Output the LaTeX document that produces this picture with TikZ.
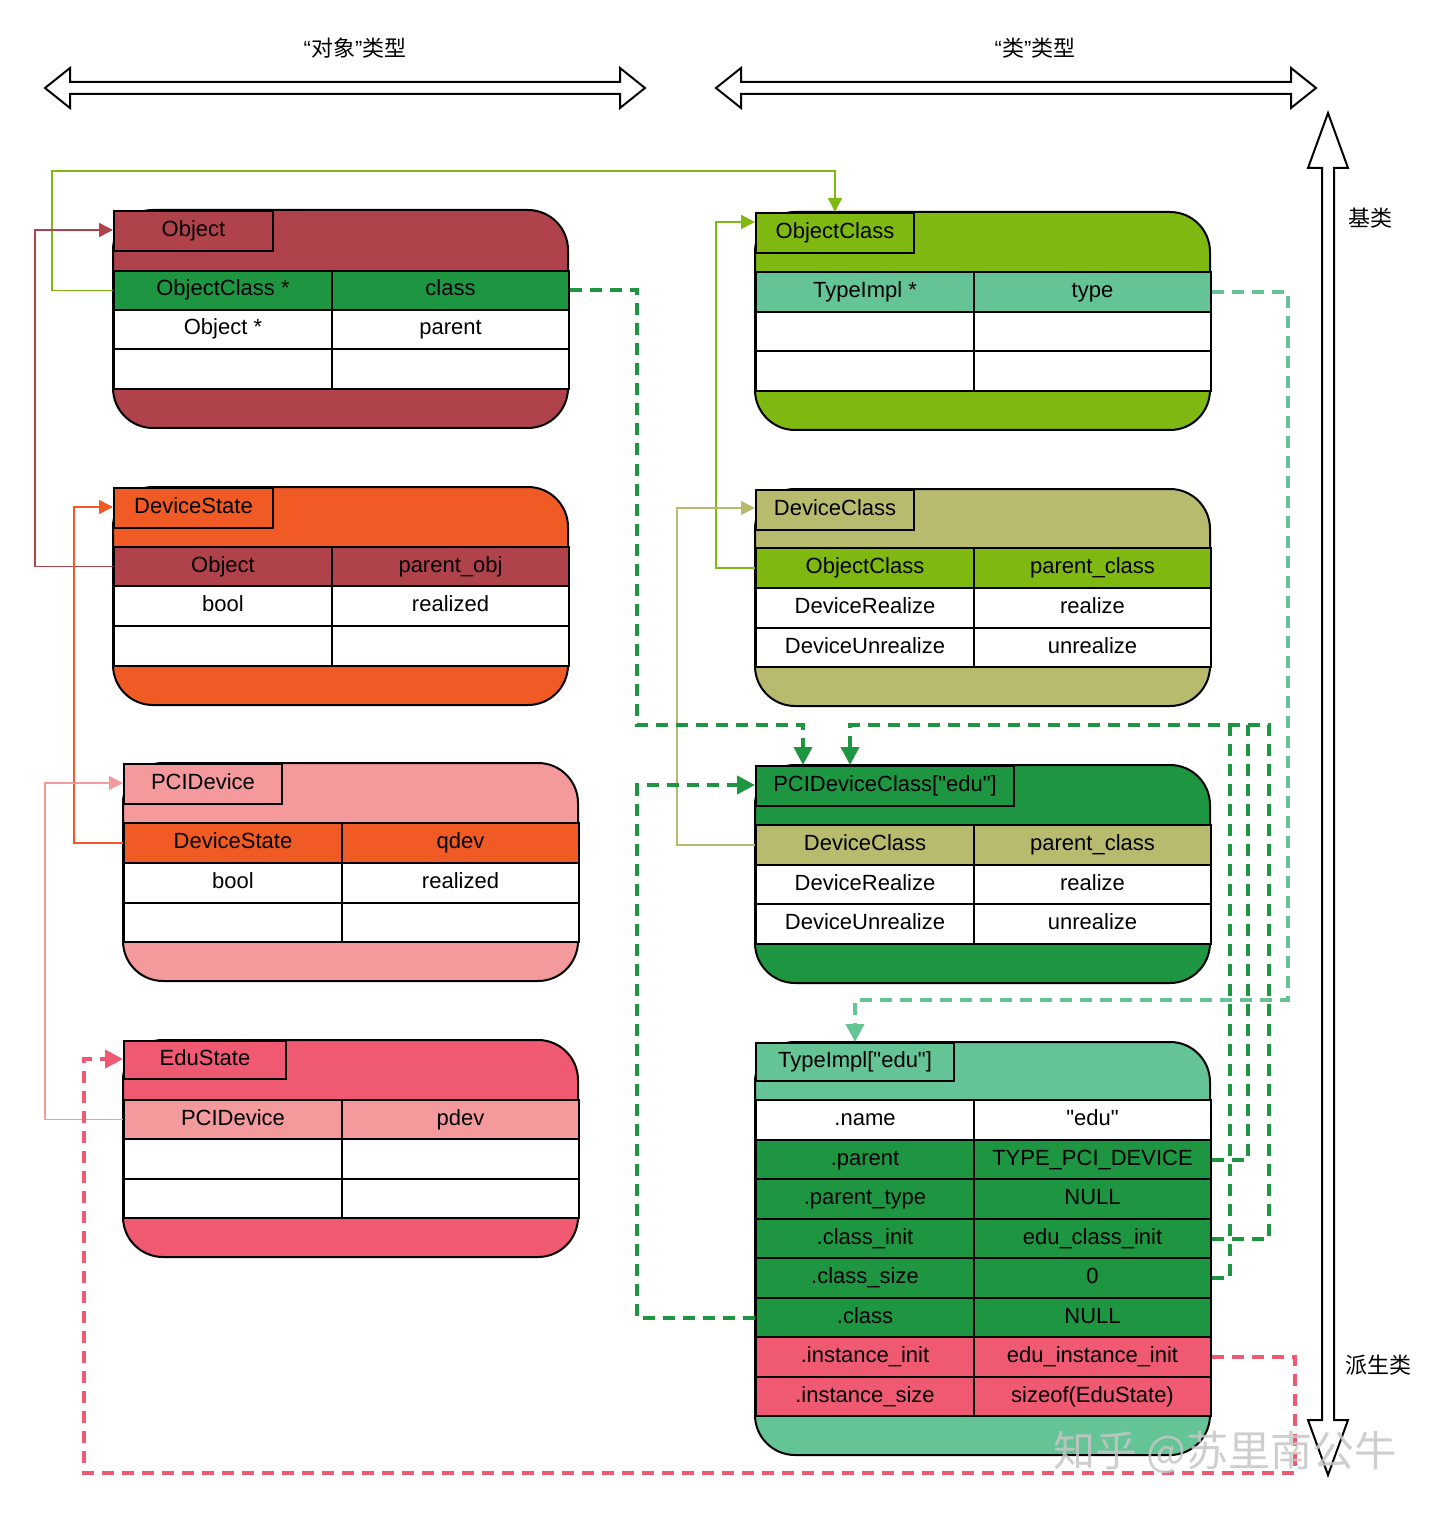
\documentclass[tikz,border=0pt]{standalone}
\usepackage{fontspec}
\setmainfont{Liberation Sans}[Ligatures=TeXOff]
\newfontfamily\cjk{Noto Sans CJK SC}
\usetikzlibrary{arrows.meta}
\definecolor{cObj}{RGB}{176,66,75}
\definecolor{cDG}{RGB}{30,150,65}
\definecolor{cOr}{RGB}{240,90,36}
\definecolor{cPk}{RGB}{244,153,156}
\definecolor{cEd}{RGB}{239,90,114}
\definecolor{cLi}{RGB}{128,184,18}
\definecolor{cTe}{RGB}{100,196,150}
\definecolor{cOl}{RGB}{184,186,110}
\tikzset{
 cell/.style={draw,line width=1pt,inner sep=0pt,anchor=north west,text height=8pt,text depth=2.5pt,font=\fontsize{11}{13}\selectfont},
 box/.style={draw,line width=1pt,rounded corners=20pt},
 conn/.style={line width=0.8pt,-{Triangle[length=7pt,width=7pt]}},
 dconn/.style={line width=2pt,dash pattern=on 6pt off 4pt,-{Triangle[length=9pt,width=9pt]}},
 dline/.style={line width=2pt,dash pattern=on 6pt off 4pt},
 dbl/.style={draw,fill=white,line width=1pt},
 lbl/.style={font=\cjk\fontsize{11}{13}\selectfont}
}
\newcommand{\mkcell}[7]{\node[cell,fill=#6,minimum width={(#4-#2)*0.5pt},minimum height={(#5-#3)*0.5pt}] (#1) at (#2,#3) {#7};}
\newcommand{\mkbox}[9]{\draw[box,fill=#8] (#2,#3) rectangle (#4,#5);
 \mkcell{#1}{#2}{#3}{#6}{#7}{#8}{#9}}
\newcommand{\mkrow}[9]{\mkcell{#1a}{#4}{#2}{#5}{#3}{#7}{#8}\mkcell{#1b}{#5}{#2}{#6}{#3}{#7}{#9}}
\begin{document}
\begin{tikzpicture}[x=0.5pt,y=-0.5pt]
\useasboundingbox (0,0) rectangle (1440,1513);
% top arrows
\draw[dbl] (45,88) -- (70,68) -- (70,82) -- (620,82) -- (620,68) -- (645,88) -- (620,108) -- (620,94) -- (70,94) -- (70,108) -- cycle;
\draw[dbl] (716,88) -- (741,68) -- (741,82) -- (1291,82) -- (1291,68) -- (1316,88) -- (1291,108) -- (1291,94) -- (741,94) -- (741,108) -- cycle;
\draw[dbl] (1328,113) -- (1348,168) -- (1334,168) -- (1334,1420) -- (1348,1420) -- (1328,1475) -- (1308,1420) -- (1322,1420) -- (1322,168) -- (1308,168) -- cycle;
\node[lbl] (t1) at (355,48) {{\rmfamily “}对象{\rmfamily ”}类型};
\node[lbl] (t2) at (1035,48) {{\rmfamily “}类{\rmfamily ”}类型};
\node[lbl] (t3) at (1370,218) {基类};
\node[lbl] (t4) at (1378,1365) {派生类};
% Object
\mkbox{ob}{113}{210}{568}{428}{272}{250}{cObj}{Object}
\mkrow{obr1}{270}{309}{113}{331}{568}{cDG}{ObjectClass *}{class}
\mkrow{obr2}{309}{348}{113}{331}{568}{white}{Object *}{parent}
\mkrow{obr3}{348}{388}{113}{331}{568}{white}{}{}
% DeviceState
\mkbox{ds}{113}{487}{568}{705}{272}{527}{cOr}{DeviceState}
\mkrow{dsr1}{546}{585}{113}{331}{568}{cObj}{Object}{parent\_obj}
\mkrow{dsr2}{585}{625}{113}{331}{568}{white}{bool}{realized}
\mkrow{dsr3}{625}{665}{113}{331}{568}{white}{}{}
% PCIDevice
\mkbox{pd}{123}{763}{578}{981}{281}{803}{cPk}{PCIDevice}
\mkrow{pdr1}{822}{862}{123}{341}{578}{cOr}{DeviceState}{qdev}
\mkrow{pdr2}{862}{902}{123}{341}{578}{white}{bool}{realized}
\mkrow{pdr3}{902}{941}{123}{341}{578}{white}{}{}
% EduState
\mkbox{es}{123}{1040}{578}{1257}{285}{1078}{cEd}{EduState}
\mkrow{esr1}{1099}{1138}{123}{341}{578}{cPk}{PCIDevice}{pdev}
\mkrow{esr2}{1138}{1178}{123}{341}{578}{white}{}{}
\mkrow{esr3}{1178}{1217}{123}{341}{578}{white}{}{}
% ObjectClass
\mkbox{oc}{755}{212}{1210}{430}{913}{252}{cLi}{ObjectClass}
\mkrow{ocr1}{271}{311}{755}{973}{1210}{cTe}{TypeImpl *}{type}
\mkrow{ocr2}{311}{350}{755}{973}{1210}{white}{}{}
\mkrow{ocr3}{350}{390}{755}{973}{1210}{white}{}{}
% DeviceClass
\mkbox{dc}{755}{489}{1210}{706}{913}{529}{cOl}{DeviceClass}
\mkrow{dcr1}{547}{587}{755}{973}{1210}{cLi}{ObjectClass}{parent\_class}
\mkrow{dcr2}{587}{627}{755}{973}{1210}{white}{DeviceRealize}{realize}
\mkrow{dcr3}{627}{666}{755}{973}{1210}{white}{DeviceUnrealize}{unrealize}
% PCIDeviceClass
\mkbox{pc}{755}{765}{1210}{983}{1013}{805}{cDG}{PCIDeviceClass["edu"]}
\mkrow{pcr1}{824}{864}{755}{973}{1210}{cOl}{DeviceClass}{parent\_class}
\mkrow{pcr2}{864}{903}{755}{973}{1210}{white}{DeviceRealize}{realize}
\mkrow{pcr3}{903}{943}{755}{973}{1210}{white}{DeviceUnrealize}{unrealize}
% TypeImpl
\mkbox{ti}{755}{1042}{1210}{1455}{953}{1080}{cTe}{TypeImpl["edu"]}
\mkrow{tir1}{1099}{1139}{755}{973}{1210}{white}{.name}{"edu"}
\mkrow{tir2}{1139}{1178}{755}{973}{1210}{cDG}{.parent}{TYPE\_PCI\_DEVICE}
\mkrow{tir3}{1178}{1218}{755}{973}{1210}{cDG}{.parent\_type}{NULL}
\mkrow{tir4}{1218}{1257}{755}{973}{1210}{cDG}{.class\_init}{edu\_class\_init}
\mkrow{tir5}{1257}{1297}{755}{973}{1210}{cDG}{.class\_size}{0}
\mkrow{tir6}{1297}{1336}{755}{973}{1210}{cDG}{.class}{NULL}
\mkrow{tir7}{1336}{1376}{755}{973}{1210}{cEd}{.instance\_init}{edu\_instance\_init}
\mkrow{tir8}{1376}{1415}{755}{973}{1210}{cEd}{.instance\_size}{sizeof(EduState)}
% solid connectors
\coordinate (ocTop) at (835,212);
\draw[conn,draw=cLi,-{Triangle[length=7pt,width=7pt,fill=cLi]}] (obr1a.west) -| (52,171) -| (ocTop);
\draw[conn,draw=cObj] (dsr1a.west) -| (35,230) -- (113,230);
\draw[conn,draw=cOr] (pdr1a.west) -| (74,507) -- (113,507);
\draw[conn,draw=cPk] (esr1a.west) -| (45,783) -- (123,783);
\draw[conn,draw=cLi] (dcr1a.west) -| (716,222) -- (755,222);
\draw[conn,draw=cOl] (pcr1a.west) -| (677,508) -- (755,508);
% dashed connectors
\coordinate (pcA) at (803,765);
\coordinate (pcB) at (850,765);
\coordinate (tiT) at (855,1042);
\draw[dconn,draw=cDG] (obr1b.east) -| (637,725) -| (pcA);
\draw[dconn,draw=cTe] (ocr1b.east) -| (1288,1000) -| (tiT);
\draw[dconn,draw=cDG] (tir6a.west) -| (637,785) -- (755,785);
\draw[dline,draw=cDG] (tir2b.east) -| (1248,725);
\draw[dline,draw=cDG] (tir5b.east) -| (1230,725);
\draw[dconn,draw=cDG] (tir4b.east) -| (1269,725) -| (pcB);
\draw[dconn,draw=cEd] (tir7b.east) -| (1295,1473) -| (84,1059) -- (123,1059);
\node[font=\cjk\fontsize{21}{24}\selectfont,text=gray!45,opacity=0.85] (wm) at (1225,1452) {知乎 @苏里南公牛};
\end{tikzpicture}
\end{document}
